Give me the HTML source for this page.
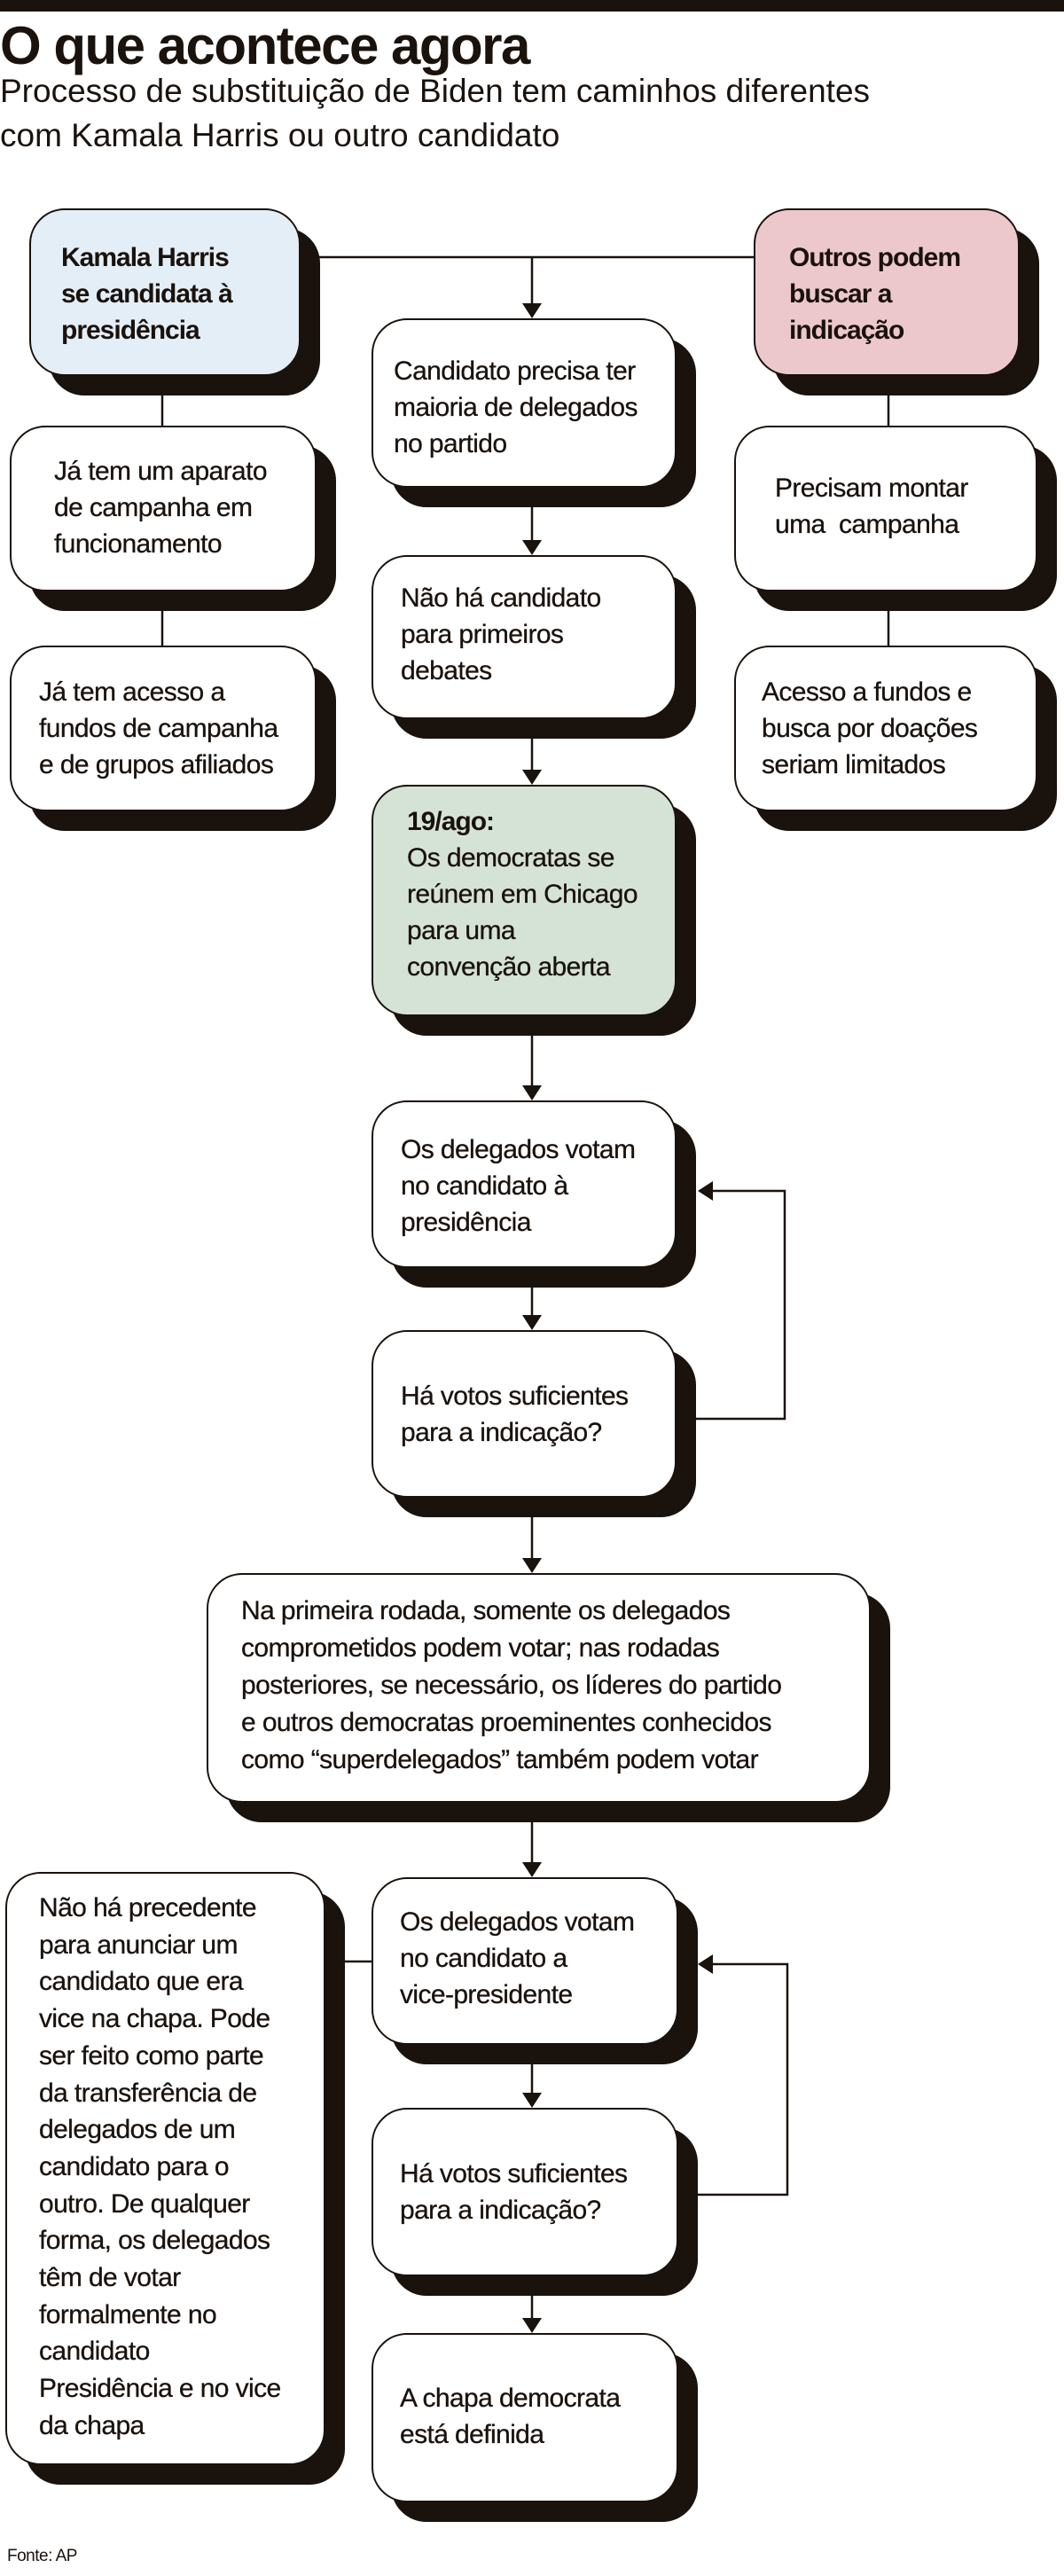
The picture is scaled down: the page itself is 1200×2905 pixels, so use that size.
<!DOCTYPE html>
<html><head><meta charset="utf-8"><style>
*{margin:0;padding:0;box-sizing:border-box}
body{width:1200px;height:2905px;background:#fff;position:relative;overflow:hidden;font-family:"Liberation Sans",sans-serif;color:#1a120c}
.bar{position:absolute;left:0;top:0;width:1200px;height:13px;background:#1a120c}
h1{position:absolute;left:0;top:20px;font-size:60px;font-weight:bold;letter-spacing:-1.5px;line-height:64px}
.sub{position:absolute;left:0;top:78px;font-size:37px;line-height:50px;letter-spacing:0px;white-space:nowrap}
.b{position:absolute;border:2.5px solid #1a120c;border-radius:40px;background:#fff;box-shadow:22px 22px 0 #1a120c;z-index:2}
.t{position:absolute;z-index:3;font-size:30px;line-height:41px;white-space:nowrap;-webkit-text-stroke:0.3px #1a120c;letter-spacing:-0.6px}
.bold{font-weight:bold;-webkit-text-stroke:0;letter-spacing:-1px}
svg{position:absolute;left:0;top:0;z-index:1}
.src{position:absolute;left:8px;top:2872px;font-size:19px;letter-spacing:-0.5px}
</style></head><body>
<div class="bar"></div>
<h1>O que acontece agora</h1>
<div class="sub">Processo de substituição de Biden tem caminhos diferentes<br>com Kamala Harris ou outro candidato</div>

<svg width="1200" height="2905" viewBox="0 0 1200 2905">
<g stroke="#1a120c" stroke-width="2.5" fill="none">
<line x1="339" y1="290" x2="850" y2="290"/>
<line x1="600" y1="290" x2="600" y2="345"/>
<line x1="183" y1="424" x2="183" y2="480"/>
<line x1="183" y1="667" x2="183" y2="728"/>
<line x1="1002" y1="424" x2="1002" y2="480"/>
<line x1="1002" y1="667" x2="1002" y2="728"/>
<line x1="600" y1="550" x2="600" y2="612"/>
<line x1="600" y1="811" x2="600" y2="871"/>
<line x1="600" y1="1146" x2="600" y2="1227"/>
<line x1="600" y1="1430" x2="600" y2="1486"/>
<line x1="600" y1="1689" x2="600" y2="1760"/>
<line x1="600" y1="2033" x2="600" y2="2103"/>
<line x1="600" y1="2306" x2="600" y2="2363"/>
<line x1="600" y1="2567" x2="600" y2="2617"/>
<polyline points="763,1600 885,1600 885,1343 800,1343"/>
<polyline points="765,2475 888,2475 888,2215 800,2215"/>
<line x1="367" y1="2212" x2="419" y2="2212"/>
</g>
<g fill="#1a120c">
<polygon points="589,342 611,342 600,359"/>
<polygon points="589,609 611,609 600,626"/>
<polygon points="589,868 611,868 600,885"/>
<polygon points="589,1224 611,1224 600,1241"/>
<polygon points="589,1483 611,1483 600,1500"/>
<polygon points="589,1757 611,1757 600,1774"/>
<polygon points="589,2100 611,2100 600,2117"/>
<polygon points="589,2360 611,2360 600,2377"/>
<polygon points="589,2614 611,2614 600,2631"/>
<polygon points="804,1332 804,1354 787,1343"/>
<polygon points="804,2204 804,2226 787,2215"/>
</g>
</svg>

<div class="b" style="left:33px;top:235px;width:306px;height:189px;background:#e3eef7"></div>
<div class="t bold" style="left:69px;top:270px">Kamala Harris<br>se candidata à<br>presidência</div>

<div class="b" style="left:850px;top:235px;width:300px;height:189px;background:#ecc8cc"></div>
<div class="t bold" style="left:890px;top:270px">Outros podem<br>buscar a<br>indicação</div>

<div class="b" style="left:419px;top:359px;width:344px;height:191px"></div>
<div class="t" style="left:444px;top:398px">Candidato precisa ter<br>maioria de delegados<br>no partido</div>

<div class="b" style="left:11px;top:480px;width:346px;height:187px"></div>
<div class="t" style="left:61px;top:511px">Já tem um aparato<br>de campanha em<br>funcionamento</div>

<div class="b" style="left:828px;top:480px;width:342px;height:187px"></div>
<div class="t" style="left:874px;top:530px">Precisam montar<br>uma&nbsp; campanha</div>

<div class="b" style="left:419px;top:626px;width:344px;height:185px"></div>
<div class="t" style="left:452px;top:654px">Não há candidato<br>para primeiros<br>debates</div>

<div class="b" style="left:11px;top:728px;width:346px;height:187px"></div>
<div class="t" style="left:44px;top:760px">Já tem acesso a<br>fundos de campanha<br>e de grupos afiliados</div>

<div class="b" style="left:828px;top:728px;width:342px;height:187px"></div>
<div class="t" style="left:859px;top:760px">Acesso a fundos e<br>busca por doações<br>seriam limitados</div>

<div class="b" style="left:419px;top:885px;width:344px;height:261px;background:#d5e3d6"></div>
<div class="t" style="left:459px;top:906px"><span class="bold">19/ago:</span><br>Os democratas se<br>reúnem em Chicago<br>para uma<br>convenção aberta</div>

<div class="b" style="left:419px;top:1241px;width:344px;height:189px"></div>
<div class="t" style="left:452px;top:1276px">Os delegados votam<br>no candidato à<br>presidência</div>

<div class="b" style="left:419px;top:1500px;width:344px;height:189px"></div>
<div class="t" style="left:452px;top:1554px">Há votos suficientes<br>para a indicação?</div>

<div class="b" style="left:233px;top:1774px;width:749px;height:259px"></div>
<div class="t" style="left:272px;top:1796px;line-height:42px">Na primeira rodada, somente os delegados<br>comprometidos podem votar; nas rodadas<br>posteriores, se necessário, os líderes do partido<br>e outros democratas proeminentes conhecidos<br>como “superdelegados” também podem votar</div>

<div class="b" style="left:6px;top:2111px;width:361px;height:669px"></div>
<div class="t" style="left:44px;top:2131px;line-height:41.7px">Não há precedente<br>para anunciar um<br>candidato que era<br>vice na chapa. Pode<br>ser feito como parte<br>da transferência de<br>delegados de um<br>candidato para o<br>outro. De qualquer<br>forma, os delegados<br>têm de votar<br>formalmente no<br>candidato<br>Presidência e no vice<br>da chapa</div>

<div class="b" style="left:419px;top:2117px;width:346px;height:189px"></div>
<div class="t" style="left:451px;top:2147px">Os delegados votam<br>no candidato a<br>vice-presidente</div>

<div class="b" style="left:419px;top:2377px;width:346px;height:190px"></div>
<div class="t" style="left:451px;top:2431px">Há votos suficientes<br>para a indicação?</div>

<div class="b" style="left:419px;top:2631px;width:346px;height:191px"></div>
<div class="t" style="left:451px;top:2684px">A chapa democrata<br>está definida</div>

<div class="src">Fonte: AP</div>
</body></html>
